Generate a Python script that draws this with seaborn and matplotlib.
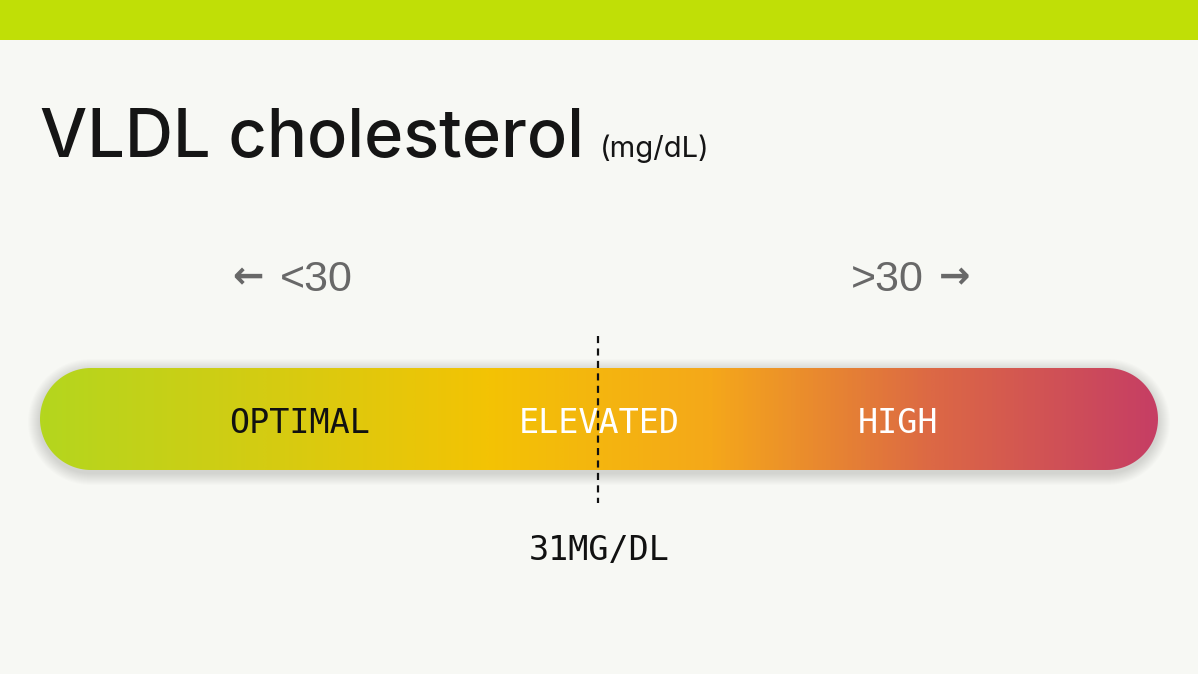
import numpy as np
import matplotlib
matplotlib.use("Agg")
import matplotlib.pyplot as plt
from matplotlib.patches import PathPatch, Rectangle
from matplotlib.path import Path
import seaborn as sns

# chart content
title = "VLDL cholesterol"
unit = "(mg/dL)"
categories = ["OPTIMAL", "ELEVATED", "HIGH"]
category_text_colors = ["#111111", "#ffffff", "#ffffff"]
threshold = 30
value = 31
gradient_stops = ["#B4D61E", "#D4CC12", "#F3C304", "#F5A81A", "#DC6845", "#C63E64"]

sns.set_theme(style="white")
plt.rcParams["font.family"] = ["Liberation Sans", "DejaVu Sans"]

W, H = 1198, 674
fig = plt.figure(figsize=(W / 100, H / 100), dpi=100)
bg = "#F7F8F4"
fig.patch.set_facecolor(bg)
ax = fig.add_axes([0, 0, 1, 1])
ax.set_xlim(0, W)
ax.set_ylim(H, 0)
ax.set_axis_off()
ax.set_facecolor(bg)


def stadium(xa, xb, ya, yb, grow=0.0):
    # pill shape path with true circular ends
    r = (yb - ya) / 2 + grow
    cy = (ya + yb) / 2
    lc, rc = xa + (yb - ya) / 2, xb - (yb - ya) / 2
    t = np.linspace(-np.pi / 2, np.pi / 2, 60)
    right = np.column_stack([rc + r * np.cos(t), cy + r * np.sin(t)])
    left = np.column_stack([lc - r * np.cos(t), cy - r * np.sin(t)])
    pts = np.vstack([right, left, right[:1]])
    codes = [Path.MOVETO] + [Path.LINETO] * (len(pts) - 2) + [Path.CLOSEPOLY]
    return Path(pts, codes)


# top accent band
ax.add_patch(Rectangle((0, 0), W, 40, color="#C0DF06", lw=0))

# title
ax.text(40, 157, title, fontsize=48, family=["Inter", "DejaVu Sans"],
        fontweight="medium", color="#151515", va="baseline", ha="left")
ax.text(600, 157, unit, fontsize=21, family=["Inter", "DejaVu Sans"],
        color="#151515", va="baseline", ha="left")

# range hints
gray = "#686868"
ax.text(248, 278, "\u2190", fontsize=27, fontweight="bold", color=gray,
        ha="center", va="center", family=["DejaVu Sans"])
ax.text(316, 280, f"<{threshold}", fontsize=31, color=gray,
        ha="center", va="center", family=["Liberation Sans", "DejaVu Sans"])
ax.text(887, 280, f">{threshold}", fontsize=31, color=gray,
        ha="center", va="center", family=["Liberation Sans", "DejaVu Sans"])
ax.text(955, 278, "\u2192", fontsize=27, fontweight="bold", color=gray,
        ha="center", va="center", family=["DejaVu Sans"])

# bar geometry
x0, x1, y0, y1 = 40, 1158, 368, 470

# soft shadow
for i in range(12):
    sh = stadium(x0, x1, y0 + 3, y1 + 3, grow=1 + i * 1.0)
    ax.add_patch(PathPatch(sh, fc="#000000", ec="none", alpha=0.012, zorder=1))

bar = PathPatch(stadium(x0, x1, y0, y1), fc="none", ec="none")
ax.add_patch(bar)

cmap = sns.blend_palette(gradient_stops, n_colors=1024, as_cmap=True)
grad = np.linspace(0, 1, 1024).reshape(1, -1)
im = ax.imshow(grad, cmap=cmap, extent=(x0, x1, y1, y0), aspect="auto",
               interpolation="bilinear", zorder=2)
im.set_clip_path(bar)

# category labels
cat_x = [300, 599, 898]
for cx, name, c in zip(cat_x, categories, category_text_colors):
    ax.text(cx, 420, name, fontsize=24, family=["DejaVu Sans Mono"],
            color=c, ha="center", va="center_baseline", zorder=3)

# value marker
vx = 598
ax.plot([vx, vx], [336, 503], color="#111111", lw=1.6,
        linestyle=(0, (3.2, 2.4)), zorder=4)
ax.text(vx + 1, 547, f"{value}MG/DL", fontsize=24, family=["DejaVu Sans Mono"],
        color="#111111", ha="center", va="center_baseline")

fig.savefig("out.png", dpi=100, facecolor=bg)
